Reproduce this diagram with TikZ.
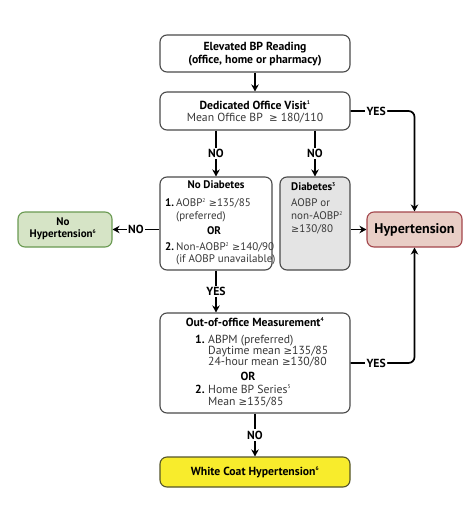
\documentclass[tikz,border=0pt]{standalone}
\usepackage{fontspec}
\setmainfont{PT Sans}
\newfontfamily\symf[Scale=0.88]{DejaVu Sans}
\usetikzlibrary{arrows.meta}
\definecolor{bordergray}{HTML}{4A4A4A}
\definecolor{txtgray}{HTML}{383838}
\definecolor{nhfill}{HTML}{D6E4C6}
\definecolor{nhdraw}{HTML}{6A9A52}
\definecolor{hfill}{HTML}{E9CEC6}
\definecolor{hdraw}{HTML}{A3464C}
\definecolor{dfill}{HTML}{E4E4E4}
\definecolor{wcfill}{HTML}{F8EC2C}
\definecolor{wcdraw}{HTML}{55552A}
\newcommand{\fs}{\fontsize{11.7}{13}\selectfont}
\newcommand{\fsm}{\fontsize{11}{12}\selectfont}
\newcommand{\gsym}{{\symf ≥}}
\newcommand{\sups}[1]{\textsuperscript{\fontsize{5.5}{5.5}\selectfont #1}}
\begin{document}
\begin{tikzpicture}[x=1pt,y=-1pt,
  box/.style={draw=bordergray,line width=1.1pt,rounded corners=7pt,inner sep=0pt},
  conn/.style={line width=1.7pt,-{Stealth[length=7pt,width=7.5pt]}},
  lbl/.style={font=\bfseries\fs,fill=white,inner sep=1.5pt},
  tb/.style={font=\bfseries\fs,inner sep=0pt,text height=7.5pt,text depth=1.5pt},
  tr/.style={font=\fs,text=txtgray,inner sep=0pt,anchor=west,text height=7.5pt,text depth=1.5pt},
  trb/.style={font=\bfseries\fs,inner sep=0pt,anchor=west,text height=7.5pt,text depth=1.5pt},
  sm/.style={font=\fsm}, smb/.style={font=\bfseries\fsm}]
\useasboundingbox (0,0) rectangle (474,530);
\fill[white] (0,0) rectangle (474,530);
% boxes
\node[box,minimum width=190pt,minimum height=37pt] (b1) at (255,53.5) {};
\node[box,minimum width=190pt,minimum height=38pt] (b2) at (255,111) {};
\node[box,minimum width=112pt,minimum height=93pt] (nd) at (216,223.5) {};
\node[box,fill=dfill,minimum width=70pt,minimum height=93pt] (db) at (315,223.5) {};
\node[box,draw=hdraw,fill=hfill,minimum width=95pt,minimum height=35pt] (hyp) at (414.5,229.5) {};
\node[box,draw=nhdraw,fill=nhfill,minimum width=94pt,minimum height=35pt] (nh) at (65,229.5) {};
\node[box,minimum width=190pt,minimum height=100pt] (oom) at (255,363) {};
\node[box,draw=wcdraw,fill=wcfill,minimum width=190pt,minimum height=30pt] (wc) at (255,472) {};
% texts
\node[tb] (t1a) at (255,47.5) {Elevated BP Reading};
\node[tb] (t1b) at (255,60) {(office, home or pharmacy)};
\node[tb] (t2a) at (255,106) {Dedicated Office Visit\sups{1}};
\node[tr,anchor=center] (t2b) at (255,118) {Mean Office BP\ \ \gsym\ 180/110};
\node[tb,smb] (t3a) at (216,185) {No Diabetes};
\node[trb,smb] (t3n1) at (165,203) {1.};
\node[tr,sm] (t3b) at (176,203) {AOBP\sups{2} \gsym135/85};
\node[tr,sm] (t3c) at (176,216) {(preferred)};
\node[tb,smb] (t3d) at (214,231) {OR};
\node[trb,smb] (t3n2) at (165,247) {2.};
\node[tr,sm] (t3e) at (176,247) {Non-AOBP\sups{2} \gsym140/90};
\node[tr,sm] (t3f) at (176,259) {(if AOBP unavailable)};
\node[trb,smb] (t4a) at (291,187) {Diabetes\sups{3}};
\node[tr,sm] (t4b) at (291,203) {AOBP or};
\node[tr,sm] (t4c) at (291,216) {non-AOBP\sups{2}};
\node[tr,sm] (t4d) at (291,229) {\gsym130/80};
\node[font=\bfseries\fontsize{14}{16}\selectfont,inner sep=0pt] (t5) at (414.5,229.5) {Hypertension};
\node[tb,smb] (t6a) at (63,222) {No};
\node[tb,smb] (t6b) at (63,234) {Hypertension\sups{6}};
\node[tb] (t7a) at (255,323) {Out-of-office Measurement\sups{4}};
\node[trb] (t7n1) at (195,340) {1.};
\node[tr] (t7b) at (208,340) {ABPM (preferred)};
\node[tr] (t7c) at (208,351) {Daytime mean \gsym135/85};
\node[tr] (t7d) at (208,362.5) {24-hour mean \gsym130/80};
\node[tb] (t7e) at (248,377) {OR};
\node[trb] (t7n2) at (195,390) {2.};
\node[tr] (t7f) at (208,390) {Home BP Series\sups{5}};
\node[tr] (t7g) at (208,402) {Mean \gsym135/85};
\node[tb] (t8) at (255,472) {White Coat Hypertension\sups{6}};
% connectors
\draw[conn] (b1.south) -- (b2.north);
\draw[conn] (nd.north |- b2.south) -- node[lbl]{NO} (nd.north);
\draw[conn] (db.north |- b2.south) -- node[lbl]{NO} (db.north);
\draw[conn,rounded corners=6pt] (b2.east) -| node[lbl,pos=0.2]{YES} (hyp.north);
\draw[conn] (nd.west |- nh.east) -- node[lbl]{NO} (nh.east);
\draw[conn] (db.east |- hyp.west) -- (hyp.west);
\draw[conn] (nd.south) -- node[lbl]{YES} (oom.north -| nd.south);
\draw[conn,rounded corners=6pt] (oom.east) -| node[lbl,pos=0.2]{YES} (hyp.south);
\draw[conn] (oom.south) -- node[lbl]{NO} (wc.north);
\end{tikzpicture}
\end{document}
